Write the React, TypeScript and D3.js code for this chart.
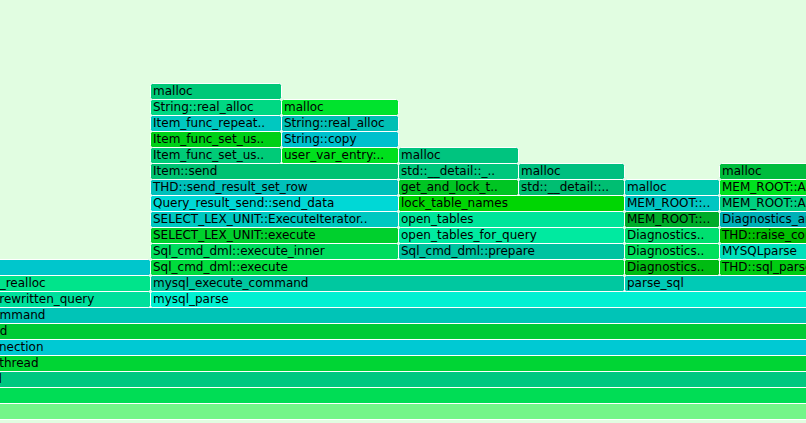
import React from "react";
import * as d3 from "d3";

// Flame graph frames (flat list): name, stack depth, start sample, sample count
const frameNames = [
  "all", "mysqld", "start_thread", "pfs_spawn_thread", "handle_connection", "do_command", "dispatch_command",
  "THD::swap_rewritten_query", "mysql_parse",
  "String::mem_realloc", "mysql_execute_command", "parse_sql",
  "my_realloc", "Sql_cmd_dml::execute", "Diagnostics..", "THD::sql_parser",
  "Sql_cmd_dml::execute_inner", "Sql_cmd_dml::prepare", "Diagnostics..", "MYSQLparse",
  "SELECT_LEX_UNIT::execute", "open_tables_for_query", "Diagnostics..", "THD::raise_condition",
  "SELECT_LEX_UNIT::ExecuteIterator..", "open_tables", "MEM_ROOT::..", "Diagnostics_area::push_warning",
  "Query_result_send::send_data", "lock_table_names", "MEM_ROOT::..", "MEM_ROOT::Alloc",
  "THD::send_result_set_row", "get_and_lock_t..", "std::__detail::..", "malloc", "MEM_ROOT::AllocSlow",
  "Item::send", "std::__detail::_..", "malloc", "malloc",
  "Item_func_set_us..", "user_var_entry:..", "malloc",
  "Item_func_set_us..", "String::copy",
  "Item_func_repeat..", "String::real_alloc",
  "String::real_alloc", "malloc",
  "malloc",
];

const frameDepths = [
  0, 1, 2, 3, 4, 5, 6,
  7, 7,
  8, 8, 8,
  9, 9, 9, 9,
  10, 10, 10, 10,
  11, 11, 11, 11,
  12, 12, 12, 12,
  13, 13, 13, 13,
  14, 14, 14, 14, 14,
  15, 15, 15, 15,
  16, 16, 16,
  17, 17,
  18, 18,
  19, 19,
  20,
];

const frameStarts = [
  0, 460, 472, 476, 476, 468, 472,
  472, 921,
  465, 921, 1869,
  480, 921, 1869, 2059,
  921, 1417, 1869, 2059,
  921, 1417, 1869, 2059,
  921, 1417, 1869, 2059,
  921, 1417, 1869, 2059,
  921, 1417, 1657, 1869, 2059,
  921, 1417, 1657, 2059,
  921, 1183, 1417,
  921, 1183,
  921, 1183,
  921, 1183,
  921,
];

const frameSamples = [
  2600, 2100, 2080, 2070, 2060, 2050, 2040,
  449, 1499,
  456, 948, 551,
  441, 948, 190, 341,
  496, 452, 190, 331,
  496, 452, 190, 321,
  496, 452, 190, 311,
  496, 452, 190, 301,
  496, 240, 212, 190, 291,
  496, 240, 212, 281,
  262, 234, 240,
  262, 234,
  262, 234,
  262, 234,
  262,
];

const frameColors = [
  "#74f589", "#00dd55", "#00c880", "#00d534", "#00c9d3", "#00cb35", "#00c4b7",
  "#00e09c", "#02f0d2",
  "#00e48b", "#00c8a0", "#00cab6",
  "#00c6cc", "#00dc3d", "#00bb12", "#00cc12",
  "#00dc5e", "#00c3a0", "#00e05c", "#00e0bb",
  "#00d02d", "#00eaa0", "#00e070", "#00bd02",
  "#00c8c1", "#00e59a", "#00ac2a", "#00b0b8",
  "#00d8d6", "#00d603", "#00c6c2", "#00d080",
  "#00c0bb", "#00c523", "#00be72", "#00cab0", "#00e31f",
  "#00c272", "#00c77d", "#00bf80", "#00bc3d",
  "#00cb78", "#00e01d", "#00c47f",
  "#00d017", "#00c0cd",
  "#00c8c0", "#00bfb4",
  "#00d883", "#00e32d",
  "#00c878",
];

const WIDTH = 806;
const HEIGHT = 423;
const FONT = "12px 'DejaVu Sans', Verdana, sans-serif";

let measureCtx: CanvasRenderingContext2D | null = null;
function textWidth(s: string): number {
  if (!measureCtx) {
    const c = document.createElement("canvas");
    measureCtx = c.getContext("2d");
  }
  if (!measureCtx) return s.length * 7;
  measureCtx.font = FONT;
  return measureCtx.measureText(s).width;
}

export default function App() {
  const x = d3.scaleLinear().domain([620, 2232]).range([0, WIDTH]);
  const y = d3.scaleLinear().domain([0, 20]).range([403.5, 83.5]);
  const rowH = Math.abs(y(0) - y(1));

  const frames = frameNames.map((name, i) => ({
    name,
    depth: frameDepths[i],
    start: frameStarts[i],
    value: frameSamples[i],
    color: frameColors[i],
  }));

  return (
    <div style={{ position: "absolute", left: 0, top: 0, width: WIDTH, height: HEIGHT, overflow: "hidden" }}>
      <svg width={WIDTH} height={HEIGHT} style={{ display: "block" }}>
        <rect x={0} y={0} width={WIDTH} height={HEIGHT} fill="#e1fde1" />
        {frames.map((f, i) => {
          const x0 = x(f.start);
          const x1 = x(f.start + f.value);
          const yy = y(f.depth);
          const tx = x0 + 2.5;
          const visible = tx + textWidth(f.name) > 1;
          return (
            <g key={i}>
              <rect
                x={x0}
                y={yy}
                width={x1 - x0}
                height={rowH}
                rx={2}
                ry={2}
                fill={f.color}
                stroke="#ffffff"
                strokeWidth={1}
              />
              {visible && (
                <text
                  x={tx}
                  y={yy + 11.4}
                  fontFamily="'DejaVu Sans', Verdana, sans-serif"
                  fontSize={12}
                  fill="#000000"
                >
                  {f.name}
                </text>
              )}
            </g>
          );
        })}
      </svg>
    </div>
  );
}
